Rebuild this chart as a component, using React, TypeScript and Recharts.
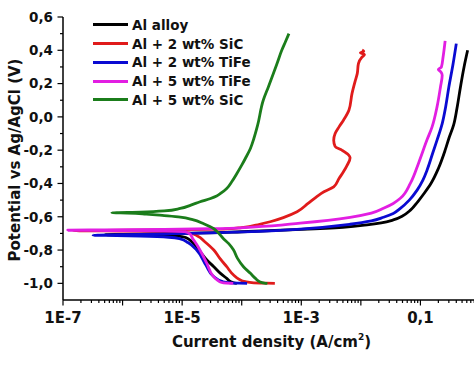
import React from 'react'
import { LineChart, Line, XAxis, YAxis, Legend, Label } from 'recharts'

const FONT = '"DejaVu Sans", sans-serif'

const seriesNames = ['Al alloy', 'Al + 2 wt% SiC', 'Al + 2 wt% TiFe', 'Al + 5 wt% TiFe', 'Al + 5 wt% SiC']
const seriesColors = ['#000000', '#e01b1b', '#0a0ad2', '#e21ee2', '#1b7d1b']

// [current density (A/cm2), potential (V)] in scan order, potential rising
const alloyCurve = [
  [8.3e-5, -1.0], [7.4e-5, -0.997], [6.6e-5, -0.99], [5.6e-5, -0.97], [4.4e-5, -0.94],
  [3.4e-5, -0.9], [2.6e-5, -0.86], [2.0e-5, -0.81], [1.45e-5, -0.75], [1.15e-5, -0.725],
  [8e-6, -0.715], [3e-6, -0.711], [1e-6, -0.709], [5e-7, -0.708], [1e-6, -0.706],
  [1e-5, -0.7], [1e-4, -0.69], [1e-3, -0.676], [5e-3, -0.663], [1.27e-2, -0.649],
  [2.2e-2, -0.637], [3.5e-2, -0.619], [5e-2, -0.595], [6.8e-2, -0.56], [9e-2, -0.51],
  [0.115, -0.46], [0.15, -0.4], [0.2, -0.31], [0.26, -0.2], [0.3, -0.13],
  [0.36, -0.05], [0.41, 0.05], [0.47, 0.18], [0.54, 0.3], [0.62, 0.4],
]

const sic2Curve = [
  [3.6e-4, -1.0], [2.6e-4, -0.999], [1.6e-4, -0.997], [1.15e-4, -0.99], [9e-5, -0.975],
  [7.3e-5, -0.95], [5.6e-5, -0.9], [4.3e-5, -0.85], [3.4e-5, -0.8], [2.4e-5, -0.75],
  [1.8e-5, -0.715], [1.3e-5, -0.697], [8e-6, -0.689], [2e-6, -0.686], [5e-7, -0.685],
  [1.5e-7, -0.684], [5e-7, -0.682], [5e-6, -0.679], [5e-5, -0.674], [1e-4, -0.665],
  [2e-4, -0.645], [3e-4, -0.63], [5e-4, -0.605], [8.5e-4, -0.57], [1.3e-3, -0.52],
  [1.8e-3, -0.48], [2.4e-3, -0.45], [3.5e-3, -0.42], [4.3e-3, -0.37], [5.1e-3, -0.33],
  [5.9e-3, -0.29], [6.6e-3, -0.245], [6.2e-3, -0.228], [4.8e-3, -0.2], [3.7e-3, -0.178],
  [3.5e-3, -0.14], [3.7e-3, -0.1], [4.3e-3, -0.06], [5.1e-3, -0.02], [6.3e-3, 0.04],
  [7.1e-3, 0.14], [8.1e-3, 0.22], [8.7e-3, 0.26], [9.1e-3, 0.32], [1.05e-2, 0.36],
  [1.15e-2, 0.375], [9.8e-3, 0.385], [1.12e-2, 0.395], [1.05e-2, 0.402],
]

const tife2Curve = [
  [1.23e-4, -1.0], [9e-5, -0.999], [6.5e-5, -0.997], [4.8e-5, -0.99], [3.4e-5, -0.96],
  [2.5e-5, -0.89], [1.75e-5, -0.8], [1.25e-5, -0.755], [9.3e-6, -0.733], [6e-6, -0.723],
  [2e-6, -0.716], [8e-7, -0.713], [3.2e-7, -0.711], [8e-7, -0.708], [5e-6, -0.703],
  [3e-5, -0.697], [2e-4, -0.688], [9.6e-4, -0.674], [6.6e-3, -0.645], [1.5e-2, -0.625],
  [2.4e-2, -0.603], [3.5e-2, -0.58], [4.6e-2, -0.55], [6.5e-2, -0.5], [8.8e-2, -0.44],
  [0.11, -0.38], [0.129, -0.32], [0.16, -0.22], [0.19, -0.14], [0.232, -0.04],
  [0.265, 0.06], [0.3, 0.18], [0.35, 0.31], [0.4, 0.44],
]

const tife5Curve = [
  [7.2e-5, -1.0], [5.5e-5, -0.999], [4.6e-5, -0.995], [3.9e-5, -0.98], [3.3e-5, -0.955],
  [2.6e-5, -0.88], [1.85e-5, -0.78], [1.5e-5, -0.73], [1.35e-5, -0.703], [1.1e-5, -0.69],
  [5e-6, -0.685], [1e-6, -0.683], [3e-7, -0.682], [1.2e-7, -0.681], [5e-7, -0.679],
  [5e-6, -0.676], [3e-5, -0.672], [1.5e-4, -0.662], [9.6e-4, -0.638], [6.6e-3, -0.603],
  [1.5e-2, -0.578], [2.4e-2, -0.549], [3.5e-2, -0.52], [4.6e-2, -0.489], [6.8e-2, -0.398],
  [9.3e-2, -0.278], [0.129, -0.138], [0.157, -0.06], [0.19, 0.06], [0.217, 0.18],
  [0.232, 0.25], [0.22, 0.27], [0.2, 0.285], [0.225, 0.3], [0.24, 0.36], [0.26, 0.457],
]

const sic5Curve = [
  [2.7e-4, -1.0], [2.4e-4, -0.998], [2e-4, -0.99], [1.7e-4, -0.97], [1.4e-4, -0.94],
  [1.07e-4, -0.9], [8.5e-5, -0.85], [7.3e-5, -0.8], [6e-5, -0.76], [4.9e-5, -0.73],
  [4e-5, -0.695], [3.4e-5, -0.672], [2.3e-5, -0.642], [1.5e-5, -0.617], [9.3e-6, -0.602],
  [5e-6, -0.593], [2.5e-6, -0.584], [1.2e-6, -0.578], [6.6e-7, -0.576], [2e-6, -0.572],
  [5e-6, -0.565], [9.3e-6, -0.55], [1.4e-5, -0.53], [2e-5, -0.51], [3e-5, -0.49],
  [3.8e-5, -0.475], [4.6e-5, -0.455], [5.6e-5, -0.43], [6.8e-5, -0.39], [8.3e-5, -0.34],
  [1.0e-4, -0.29], [1.15e-4, -0.25], [1.4e-4, -0.19], [1.6e-4, -0.13], [1.85e-4, -0.05],
  [2.3e-4, 0.1], [2.8e-4, 0.18], [3.4e-4, 0.26], [4e-4, 0.33], [4.7e-4, 0.4],
  [5.4e-4, 0.45], [6.2e-4, 0.5],
]

const curves = [alloyCurve, sic2Curve, tife2Curve, tife5Curve, sic5Curve]

const xDecades = [1e-7, 1e-6, 1e-5, 1e-4, 1e-3, 1e-2, 1e-1, 1]
const xLabelValues = [1e-7, 1e-5, 1e-3, 0.1]
const xLabelTexts = ['1E-7', '1E-5', '1E-3', '0,1']
const yTicks = [-1.0, -0.9, -0.8, -0.7, -0.6, -0.5, -0.4, -0.3, -0.2, -0.1, 0, 0.1, 0.2, 0.3, 0.4, 0.5, 0.6]

// minor ticks 2..9 in every decade
const xTicks = xDecades.flatMap((d, k) =>
  k === xDecades.length - 1 ? [d] : [d, 2 * d, 3 * d, 4 * d, 5 * d, 6 * d, 7 * d, 8 * d, 9 * d]
)

const X_TICK_SIZE = 5
const X_TICK_MARGIN = 7
const Y_TICK_SIZE = 5
const Y_TICK_MARGIN = 5

const XTick = (props: any) => {
  const { x, y, payload } = props
  const lg = Math.log10(payload.value)
  const major = Math.abs(lg - Math.round(lg)) < 1e-6
  const axisY = y - X_TICK_SIZE - X_TICK_MARGIN
  const idx = xLabelValues.findIndex((v) => Math.abs(Math.log10(v) - lg) < 1e-6)
  return (
    <g>
      <line x1={x} x2={x} y1={axisY} y2={axisY + (major ? 5.5 : 3)} stroke="#000" strokeWidth={1.2} />
      {idx >= 0 && (
        <text x={x} y={y} dy="0.71em" textAnchor="middle" fontFamily={FONT} fontWeight="bold" fontSize={15} fill="#111">
          {xLabelTexts[idx]}
        </text>
      )}
    </g>
  )
}

const YTick = (props: any) => {
  const { x, y, payload } = props
  const v = payload.value
  const major = Math.round(v * 10) % 2 === 0
  const axisX = x + Y_TICK_SIZE + Y_TICK_MARGIN
  return (
    <g>
      <line x1={axisX - (major ? 5.5 : 3)} x2={axisX} y1={y} y2={y} stroke="#000" strokeWidth={1.2} />
      {major && (
        <text x={x} y={y} dy="0.36em" textAnchor="end" fontFamily={FONT} fontWeight="bold" fontSize={13.5} fill="#111">
          {v.toFixed(1).replace('.', ',')}
        </text>
      )}
    </g>
  )
}

const XTitle = (props: any) => {
  const vb = props.viewBox
  return (
    <text x={vb.x + vb.width / 2} y={vb.y + 47} textAnchor="middle" fontFamily={FONT} fontWeight="bold" fontSize={15} fill="#111">
      Current density (A/cm
      <tspan dy={-7} fontSize={9}>2</tspan>
      <tspan dy={7}>)</tspan>
    </text>
  )
}

const YTitle = (props: any) => {
  const vb = props.viewBox
  const cx = vb.x + 19.5
  const cy = vb.y + vb.height / 2 + 1.5
  return (
    <text x={cx} y={cy} transform={`rotate(-90 ${cx} ${cy})`} textAnchor="middle" fontFamily={FONT} fontWeight="bold" fontSize={15} fill="#111">
      Potential vs Ag/AgCl (V)
    </text>
  )
}

const renderLegend = () => (
  <div style={{ fontFamily: FONT, fontWeight: 'bold', fontSize: 13.5, color: '#111' }}>
    {seriesNames.map((name, k) => (
      <div key={name} style={{ display: 'flex', alignItems: 'center', height: 18.75, whiteSpace: 'nowrap' }}>
        <span style={{ display: 'inline-block', width: 35, height: 3, background: seriesColors[k], marginRight: 4 }} />
        <span>{name}</span>
      </div>
    ))}
  </div>
)

export default function App() {
  return (
    <div style={{ position: 'fixed', left: 0, top: 0, width: 474, height: 366, overflow: 'hidden', background: '#fff' }}>
      <LineChart width={490} height={366} margin={{ top: 17, right: 10, bottom: 0, left: 0 }}>
        <XAxis
          type="number"
          dataKey="i"
          scale="log"
          domain={[1e-7, 1]}
          allowDataOverflow
          ticks={xTicks}
          interval={0}
          height={66}
          tickSize={X_TICK_SIZE}
          tickMargin={X_TICK_MARGIN}
          tickLine={false}
          tick={<XTick />}
          axisLine={{ stroke: '#000', strokeWidth: 1.5 }}
        >
          <Label content={<XTitle />} />
        </XAxis>
        <YAxis
          type="number"
          domain={[-1.1, 0.6]}
          allowDataOverflow
          ticks={yTicks}
          interval={0}
          width={63}
          tickSize={Y_TICK_SIZE}
          tickMargin={Y_TICK_MARGIN}
          tickLine={false}
          tick={<YTick />}
          axisLine={{ stroke: '#000', strokeWidth: 1.5 }}
        >
          <Label content={<YTitle />} />
        </YAxis>
        <Legend
          content={renderLegend}
          layout="vertical"
          align="center"
          verticalAlign="middle"
          wrapperStyle={{ left: 93, top: 15.6, width: 'auto', height: 'auto' }}
        />
        {curves.map((curve, k) => (
          <Line
            key={seriesNames[k]}
            name={seriesNames[k]}
            data={curve.map(([i, e]) => ({ i, e }))}
            dataKey="e"
            type="monotoneY"
            stroke={seriesColors[k]}
            strokeWidth={2.8}
            strokeLinejoin="round"
            dot={false}
            isAnimationActive={false}
          />
        ))}
      </LineChart>
    </div>
  )
}
